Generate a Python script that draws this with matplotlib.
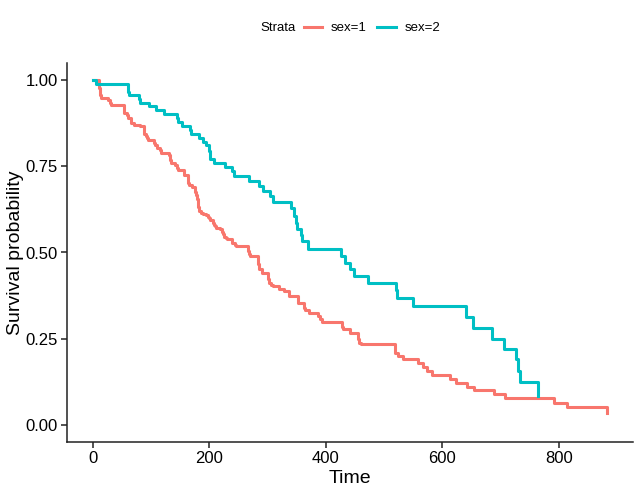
import matplotlib
matplotlib.use("Agg")
import matplotlib.pyplot as plt
from matplotlib.lines import Line2D

plt.rcParams['font.family'] = ['Liberation Sans', 'DejaVu Sans']

# sex=1 (step after each time)
t1 = [0, 11, 12, 13, 15, 26, 30, 31, 53, 54, 59, 60, 65, 71, 81, 88, 92, 93, 95,
      105, 107, 110, 116, 118, 131, 132, 135, 142, 144, 147, 156, 163, 166, 170,
      175, 176, 177, 179, 180, 181, 182, 183, 186, 189, 194, 197, 199, 201, 207,
      208, 210, 212, 218, 222, 223, 226, 229, 230, 239, 245, 246, 267, 268, 270,
      283, 284, 285, 286, 291, 301, 303, 306, 310, 320, 329, 337, 353, 363, 364,
      371, 387, 390, 394, 428, 429, 442, 455, 457, 460, 519, 524, 533, 558, 567,
      574, 583, 613, 624, 643, 655, 689, 707, 791, 814, 883]
s1 = [1.0, 0.978, 0.971, 0.957, 0.949, 0.942, 0.935, 0.928, 0.913, 0.906, 0.899,
      0.891, 0.877, 0.870, 0.866, 0.845, 0.838, 0.833, 0.826, 0.818, 0.811, 0.804,
      0.797, 0.790, 0.782, 0.768, 0.761, 0.754, 0.746, 0.739, 0.725, 0.703, 0.697,
      0.690, 0.683, 0.676, 0.668, 0.654, 0.647, 0.633, 0.626, 0.620, 0.616, 0.612,
      0.608, 0.604, 0.600, 0.594, 0.587, 0.580, 0.576, 0.572, 0.567, 0.560, 0.553,
      0.546, 0.542, 0.538, 0.528, 0.522, 0.518, 0.505, 0.497, 0.489, 0.475, 0.467,
      0.459, 0.451, 0.441, 0.422, 0.412, 0.407, 0.402, 0.395, 0.388, 0.375, 0.354,
      0.340, 0.333, 0.325, 0.315, 0.306, 0.298, 0.285, 0.277, 0.267, 0.250, 0.238,
      0.233, 0.209, 0.200, 0.190, 0.180, 0.169, 0.157, 0.145, 0.134, 0.122, 0.111,
      0.100, 0.088, 0.079, 0.064, 0.053, 0.035]

# sex=2
t2 = [0, 5, 60, 61, 62, 79, 81, 96, 108, 123, 145, 146, 154, 167, 168, 182, 189,
      194, 199, 201, 202, 208, 227, 239, 243, 268, 285, 292, 305, 309, 340, 345,
      348, 350, 357, 359, 370, 426, 433, 442, 449, 473, 521, 523, 550, 641, 653,
      686, 705, 727, 730, 734, 764]
s2 = [1.0, 0.989, 0.978, 0.967, 0.958, 0.946, 0.935, 0.924, 0.913, 0.902, 0.890,
      0.879, 0.866, 0.856, 0.845, 0.833, 0.822, 0.811, 0.794, 0.783, 0.772, 0.761,
      0.748, 0.736, 0.721, 0.707, 0.692, 0.678, 0.663, 0.646, 0.630, 0.605, 0.585,
      0.567, 0.550, 0.533, 0.511, 0.489, 0.470, 0.451, 0.431, 0.412, 0.390, 0.369,
      0.344, 0.312, 0.282, 0.250, 0.219, 0.190, 0.156, 0.125, 0.083]

labels = ["sex=1", "sex=2"]
colors = ["#F8766D", "#00BFC4"]

fig = plt.figure(figsize=(6.41, 4.94), dpi=100)
ax = fig.add_axes([67/641, 1 - 442/494, (633-67)/641, (442-63)/494])

ax.step(t1, s1, where='post', color=colors[0], lw=2.2)
ax.step(t2, s2, where='post', color=colors[1], lw=2.2)

ax.set_xlim(-44.15, 927.15)
ax.set_ylim(-0.05, 1.05)
ax.set_xticks([0, 200, 400, 600, 800])
ax.set_yticks([0, 0.25, 0.5, 0.75, 1.0])
ax.set_yticklabels(["0.00", "0.25", "0.50", "0.75", "1.00"])
for sp in ["top", "right"]:
    ax.spines[sp].set_visible(False)
for sp in ["left", "bottom"]:
    ax.spines[sp].set_linewidth(1.1)
    ax.spines[sp].set_color("#222222")
ax.tick_params(direction='out', length=4, width=1.1, labelsize=12, colors='#222222',
               labelcolor='black', pad=2.5)
ax.set_xlabel("Time", fontsize=14, labelpad=3)
ax.set_ylabel("Survival probability", fontsize=14, labelpad=1)

handles = [Line2D([], [], color=c, lw=2.2) for c in colors]
fig.text(260/641, 0.943, "Strata", fontsize=9.5, va='center', ha='left')
fig.legend(handles, labels, ncol=2, loc='center', bbox_to_anchor=(0.58, 0.943),
           frameon=False, fontsize=9.5, handlelength=1.4, handletextpad=0.65,
           columnspacing=0.8)

fig.savefig("out.png", dpi=100)
